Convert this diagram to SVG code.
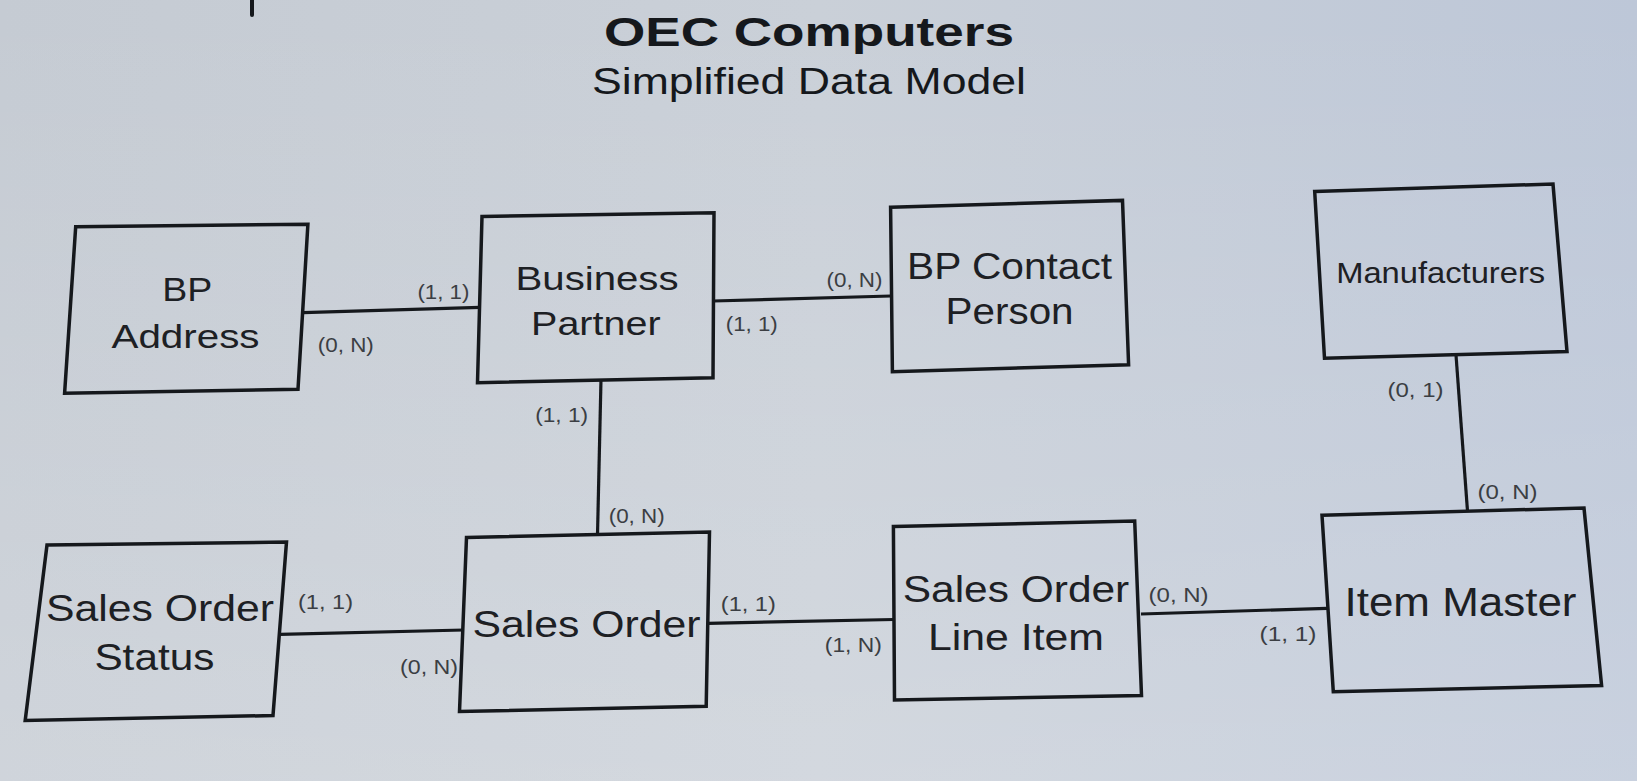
<svg xmlns="http://www.w3.org/2000/svg" width="1637" height="781" viewBox="0 0 1637 781">
<defs>
<linearGradient id="bgH" x1="0" y1="0" x2="1" y2="0">
<stop offset="0" stop-color="#c5cbd3"/>
<stop offset="0.5" stop-color="#cad0d8"/>
<stop offset="1" stop-color="#bdc7d8"/>
</linearGradient>
<linearGradient id="bgV" x1="0" y1="0" x2="0" y2="1">
<stop offset="0" stop-color="#ffffff" stop-opacity="0"/>
<stop offset="1" stop-color="#ffffff" stop-opacity="0.18"/>
</linearGradient>
<style>
.box{fill:none;stroke:#15181c;stroke-width:3.5;stroke-linejoin:miter}
.conn{fill:none;stroke:#15181c;stroke-width:3.2}
.lbl{font-family:"Liberation Sans",Arial,sans-serif;fill:#1d2024;text-anchor:middle}
.card{font-family:"Liberation Sans",Arial,sans-serif;fill:#3b3e43;text-anchor:middle;font-size:20px}
.title{font-family:"Liberation Sans",Arial,sans-serif;fill:#15181c;text-anchor:middle}
</style>
</defs>
<rect x="0" y="0" width="1637" height="781" fill="url(#bgH)"/>
<rect x="0" y="0" width="1637" height="781" fill="url(#bgV)"/>
<rect x="250" y="-3" width="4" height="20" rx="2" fill="#15181c"/>

<g id="title">
<text class="title" x="809" y="46" font-size="40" font-weight="bold" textLength="410" lengthAdjust="spacingAndGlyphs">OEC Computers</text>
<text class="title" x="809" y="94" font-size="36" textLength="434" lengthAdjust="spacingAndGlyphs">Simplified Data Model</text>
</g>

<g id="connectors">
<line class="conn" x1="303" y1="312.7" x2="480" y2="307.3"/>
<line class="conn" x1="713" y1="301" x2="891" y2="296"/>
<line class="conn" x1="601" y1="379" x2="597.5" y2="535"/>
<line class="conn" x1="280" y1="634.3" x2="464" y2="630"/>
<line class="conn" x1="708" y1="623.3" x2="894" y2="619.5"/>
<line class="conn" x1="1141" y1="614" x2="1327" y2="608.3"/>
<line class="conn" x1="1456" y1="355" x2="1467.5" y2="511"/>
<text class="card" x="443.4" y="299" textLength="52" lengthAdjust="spacingAndGlyphs">(1, 1)</text>
<text class="card" x="345.8" y="352" textLength="56" lengthAdjust="spacingAndGlyphs">(0, N)</text>
<text class="card" x="854.5" y="287" textLength="56" lengthAdjust="spacingAndGlyphs">(0, N)</text>
<text class="card" x="751.8" y="330.5" textLength="52" lengthAdjust="spacingAndGlyphs">(1, 1)</text>
<text class="card" x="561.7" y="422" textLength="53" lengthAdjust="spacingAndGlyphs">(1, 1)</text>
<text class="card" x="636.7" y="523" textLength="56" lengthAdjust="spacingAndGlyphs">(0, N)</text>
<text class="card" x="325.5" y="609" textLength="55" lengthAdjust="spacingAndGlyphs">(1, 1)</text>
<text class="card" x="429" y="674" textLength="58" lengthAdjust="spacingAndGlyphs">(0, N)</text>
<text class="card" x="748.3" y="610.5" textLength="55" lengthAdjust="spacingAndGlyphs">(1, 1)</text>
<text class="card" x="853.3" y="652" textLength="57" lengthAdjust="spacingAndGlyphs">(1, N)</text>
<text class="card" x="1178.6" y="601.5" textLength="60" lengthAdjust="spacingAndGlyphs">(0, N)</text>
<text class="card" x="1288" y="640.5" textLength="57" lengthAdjust="spacingAndGlyphs">(1, 1)</text>
<text class="card" x="1415.5" y="397" textLength="56" lengthAdjust="spacingAndGlyphs">(0, 1)</text>
<text class="card" x="1507.5" y="499" textLength="60" lengthAdjust="spacingAndGlyphs">(0, N)</text>
</g>

<g id="bp-address">
<polygon class="box" points="75.7,226.7 307.9,224.3 298,389.3 64.6,393.3"/>
<text class="lbl" x="187.3" y="301" font-size="34" textLength="50" lengthAdjust="spacingAndGlyphs">BP</text>
<text class="lbl" x="185.5" y="347.5" font-size="34" textLength="148" lengthAdjust="spacingAndGlyphs">Address</text>
</g>

<g id="business-partner">
<polygon class="box" points="482,216.5 714,212.7 713,377.7 477.5,382.7"/>
<text class="lbl" x="597" y="290" font-size="34" textLength="163" lengthAdjust="spacingAndGlyphs">Business</text>
<text class="lbl" x="595.8" y="334.5" font-size="34" textLength="129.5" lengthAdjust="spacingAndGlyphs">Partner</text>
</g>

<g id="bp-contact-person">
<polygon class="box" points="890.6,207.3 1122.5,200.4 1128.6,364.7 892.4,371.7"/>
<text class="lbl" x="1009.6" y="278.5" font-size="36" textLength="205" lengthAdjust="spacingAndGlyphs">BP Contact</text>
<text class="lbl" x="1009.6" y="323.5" font-size="36" textLength="128" lengthAdjust="spacingAndGlyphs">Person</text>
</g>

<g id="manufacturers">
<polygon class="box" points="1314.7,191.5 1553,184 1567,351.5 1324.5,358.3"/>
<text class="lbl" x="1440.7" y="282.5" font-size="29" textLength="209" lengthAdjust="spacingAndGlyphs">Manufacturers</text>
</g>

<g id="sales-order-status">
<polygon class="box" points="47,545 286.5,542 273,715.5 25.2,720.5"/>
<text class="lbl" x="160" y="621" font-size="36" textLength="228" lengthAdjust="spacingAndGlyphs">Sales Order</text>
<text class="lbl" x="154.4" y="669.5" font-size="36" textLength="120" lengthAdjust="spacingAndGlyphs">Status</text>
</g>

<g id="sales-order">
<polygon class="box" points="466.5,537.5 709.5,532 706.2,706.2 459.5,711.5"/>
<text class="lbl" x="586.5" y="637" font-size="36" textLength="228" lengthAdjust="spacingAndGlyphs">Sales Order</text>
</g>

<g id="sales-order-line-item">
<polygon class="box" points="893.4,526.5 1134.7,521 1141.5,695.5 894.5,700"/>
<text class="lbl" x="1016" y="602" font-size="37" textLength="226.5" lengthAdjust="spacingAndGlyphs">Sales Order</text>
<text class="lbl" x="1016" y="650" font-size="37" textLength="176" lengthAdjust="spacingAndGlyphs">Line Item</text>
</g>

<g id="item-master">
<polygon class="box" points="1322,515.3 1584,508 1601.6,685.5 1333.3,691.8"/>
<text class="lbl" x="1460.5" y="615.5" font-size="40" textLength="232" lengthAdjust="spacingAndGlyphs">Item Master</text>
</g>
</svg>
